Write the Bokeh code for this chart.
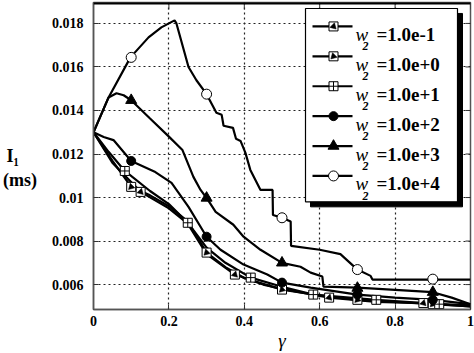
from bokeh.plotting import figure
from bokeh.models import Range1d, FixedTicker, CustomJSTickFormatter, Span
from bokeh.core.properties import value
from bokeh.embed import file_html
from bokeh.resources import INLINE
import math

# ---------------- data ----------------
x_ticks = [0, 0.2, 0.4, 0.6, 0.8, 1.0]
y_ticks = [0.006, 0.008, 0.010, 0.012, 0.014, 0.016, 0.018]

legend_values = ["=1.0e-1", "=1.0e+0", "=1.0e+1", "=1.0e+2", "=1.0e+3", "=1.0e+4"]

# w2 = 1.0e-1
x_em1 = [0, 0.05, 0.125, 0.20, 0.25, 0.30, 0.375, 0.45, 0.50, 0.625, 0.75, 0.875, 1.0]
y_em1 = [0.0130, 0.0116, 0.01026, 0.0095, 0.0088, 0.0074, 0.00646, 0.0060, 0.0058, 0.0054, 0.0052, 0.00515, 0.0050]
mx_em1 = [0.125, 0.375, 0.625, 0.875]
my_em1 = [0.01026, 0.00646, 0.0054, 0.00515]

# w2 = 1.0e+0
x_e0 = [0, 0.05, 0.10, 0.15, 0.20, 0.25, 0.30, 0.35, 0.40, 0.50, 0.60, 0.70, 0.80, 0.90, 1.0]
y_e0 = [0.0130, 0.0117, 0.01049, 0.0101, 0.0096, 0.0089, 0.00747, 0.0068, 0.0063, 0.00577, 0.0055, 0.0053, 0.0052, 0.0051, 0.0050]
mx_e0 = [0.1, 0.3, 0.5, 0.7, 0.9]
my_e0 = [0.01049, 0.00747, 0.00577, 0.0053, 0.0051]

# w2 = 1.0e+1
x_e1 = [0, 0.04, 0.083, 0.15, 0.20, 0.25, 0.30, 0.35, 0.417, 0.50, 0.583, 0.75, 0.917, 1.0]
y_e1 = [0.0130, 0.0121, 0.01122, 0.0103, 0.0097, 0.00884, 0.0077, 0.0070, 0.00632, 0.0059, 0.00554, 0.0053, 0.0051, 0.00505]
mx_e1 = [0.083, 0.25, 0.417, 0.583, 0.75, 0.917]
my_e1 = [0.01122, 0.00884, 0.00632, 0.00554, 0.0053, 0.0051]

# w2 = 1.0e+2
x_e2 = [0, 0.027, 0.053, 0.10, 0.164, 0.207, 0.252, 0.30, 0.337, 0.398, 0.461, 0.50, 0.576, 0.70, 0.80, 0.90, 1.0]
y_e2 = [0.0130, 0.01278, 0.01264, 0.01168, 0.01117, 0.01067, 0.00957, 0.0082, 0.0076, 0.00692, 0.00646, 0.00609, 0.00586, 0.00554, 0.0054, 0.0053, 0.0051]
mx_e2 = [0.1, 0.3, 0.5, 0.7, 0.9]
my_e2 = [0.01168, 0.0082, 0.00609, 0.00554, 0.0053]

# w2 = 1.0e+3
x_e3 = [0, 0.04, 0.061, 0.08, 0.10, 0.15, 0.20, 0.236, 0.265, 0.284, 0.30, 0.324, 0.371, 0.398, 0.443,
        0.50, 0.549, 0.576, 0.607, 0.61, 0.70, 0.80, 0.90, 0.95, 1.0]
y_e3 = [0.0130, 0.0146, 0.01479, 0.01470, 0.01447, 0.01363, 0.0128, 0.01218, 0.01095, 0.01035, 0.00998,
        0.00934, 0.00875, 0.0082, 0.0076, 0.0070, 0.00682, 0.00655, 0.00637, 0.00591, 0.00586, 0.00576,
        0.00565, 0.0054, 0.0051]
mx_e3 = [0.1, 0.3, 0.5, 0.7, 0.9]
my_e3 = [0.01447, 0.00998, 0.0070, 0.00584, 0.00565]

# w2 = 1.0e+4
x_e4 = [0, 0.04, 0.098, 0.146, 0.18, 0.215, 0.220, 0.252, 0.273, 0.30, 0.326, 0.34, 0.345, 0.37, 0.378,
        0.39, 0.403, 0.416, 0.443, 0.475, 0.476, 0.50, 0.523, 0.524, 0.60, 0.655, 0.70, 0.735, 0.74, 1.0]
y_e4 = [0.0130, 0.0146, 0.01644, 0.01736, 0.01782, 0.01814, 0.0180, 0.0160, 0.01539, 0.01475, 0.0139,
        0.0138, 0.0133, 0.0132, 0.0127, 0.0126, 0.01205, 0.01127, 0.01035, 0.01035, 0.0092, 0.00907,
        0.0089, 0.00778, 0.0076, 0.00740, 0.00669, 0.0064, 0.00623, 0.00623]
mx_e4 = [0.1, 0.3, 0.5, 0.7, 0.9]
my_e4 = [0.01644, 0.01475, 0.00907, 0.00669, 0.00625]

# ---------------- layout ----------------
W, H = 474, 353
FL, FR, FT, FB = 93, 470, 2, 310
X0, X1 = 0.0, 1.0
Y0, Y1 = 0.004855, 0.018962


def px(x):
    return X0 + (x - FL) / (FR - FL) * (X1 - X0)


def py(y):
    return Y0 + (FB - y) / (FB - FT) * (Y1 - Y0)


SERIF = "Liberation Serif"
BLACK = "black"
LW = 2.2

p = figure(width=W, height=H, x_range=Range1d(X0, X1), y_range=Range1d(Y0, Y1),
           output_backend="svg", toolbar_location=None,
           min_border_left=FL, min_border_right=W - FR, min_border_top=FT, min_border_bottom=H - FB,
           background_fill_color="white", border_fill_color="white")

p.outline_line_color = "#555555"
p.outline_line_width = 1.5

p.xaxis.ticker = FixedTicker(ticks=x_ticks)
p.yaxis.ticker = FixedTicker(ticks=y_ticks)
p.xaxis.formatter = CustomJSTickFormatter(code="return String(Math.round(tick*10)/10);")
p.yaxis.formatter = CustomJSTickFormatter(code="return String(Math.round(tick*1000)/1000);")
for ax in (p.xaxis[0], p.yaxis[0]):
    ax.major_tick_in = 5
    ax.major_tick_out = 0
    ax.minor_tick_in = 0
    ax.minor_tick_out = 0
    ax.major_tick_line_color = "#333333"
    ax.axis_line_color = "#555555"
    ax.axis_line_width = 1.5
    ax.major_label_text_font = SERIF
    ax.major_label_text_font_style = "bold"
    ax.major_label_text_font_size = "14px"
    ax.major_label_text_color = BLACK
    ax.axis_label_text_font = SERIF
    ax.axis_label_text_color = BLACK
p.xaxis.major_label_standoff = 6
p.yaxis.major_label_standoff = 10

p.xaxis.axis_label = "γ"
p.xaxis.axis_label_text_font_style = "italic"
p.xaxis.axis_label_text_font_size = "19px"
p.xaxis.axis_label_standoff = 1

p.yaxis.axis_label = "\nI\u2081\u2002\u2002\n(ms)"
p.yaxis.axis_label_orientation = "horizontal"
p.yaxis.axis_label_text_font_style = "bold"
p.yaxis.axis_label_text_font_size = "18px"
p.yaxis.axis_label_standoff = 12

p.grid.grid_line_color = "#222222"
p.grid.grid_line_dash = "2 3"
p.grid.grid_line_width = 1.2

p.add_layout(Span(location=Y1, dimension="width", line_color=BLACK, line_width=4))

# inward ticks on the top and right edges
p.segment(x0=x_ticks, y0=[Y1] * len(x_ticks), x1=x_ticks, y1=[py(FT + 7)] * len(x_ticks),
          line_color="#333333", line_width=1)
p.segment(x0=[X1] * len(y_ticks), y0=y_ticks, x1=[px(FR - 5)] * len(y_ticks), y1=y_ticks,
          line_color="#333333", line_width=1)


def half_square(xs, ys, angle, size=9):
    p.scatter(xs, ys, marker="square", size=size, fill_color="white", line_color=BLACK, line_width=1)
    p.scatter(xs, ys, marker="triangle", size=size * 0.72, fill_color=BLACK, line_color=BLACK,
              line_width=0.5, angle=angle)


def draw_markers(kind, xs, ys):
    if kind == 0:
        half_square(xs, ys, -3 * math.pi / 4)
    elif kind == 1:
        half_square(xs, ys, 3 * math.pi / 4)
    elif kind == 2:
        p.scatter(xs, ys, marker="square_cross", size=9, fill_color="white", line_color=BLACK, line_width=1)
    elif kind == 3:
        p.scatter(xs, ys, marker="circle", size=9, fill_color=BLACK, line_color=BLACK)
    elif kind == 4:
        p.scatter(xs, ys, marker="triangle", size=11, fill_color=BLACK, line_color=BLACK)
    else:
        p.scatter(xs, ys, marker="circle", size=10, fill_color="white", line_color=BLACK, line_width=1)


series = [
    (x_em1, y_em1, mx_em1, my_em1),
    (x_e0, y_e0, mx_e0, my_e0),
    (x_e1, y_e1, mx_e1, my_e1),
    (x_e2, y_e2, mx_e2, my_e2),
    (x_e3, y_e3, mx_e3, my_e3),
    (x_e4, y_e4, mx_e4, my_e4),
]
for xs, ys, mxs, mys in series:
    p.line(xs, ys, line_color=BLACK, line_width=LW)
for k, (xs, ys, mxs, mys) in enumerate(series):
    draw_markers(k, mxs, mys)

# ---------------- legend (custom, with subscripts) ----------------
BL, BT, BR, BB = 305, 8, 457, 202
SH = 5
p.quad(left=[px(BL + SH)], right=[px(BR + SH)], top=[py(BT + SH)], bottom=[py(BB + SH)],
       fill_color=BLACK, line_color=BLACK)
p.quad(left=[px(BL)], right=[px(BR)], top=[py(BT)], bottom=[py(BB)],
       fill_color="white", line_color=BLACK, line_width=1.2)

for k, lab in enumerate(legend_values):
    r = 26 + 30 * k
    p.line([px(312), px(352)], [py(r), py(r)], line_color=BLACK, line_width=LW)
    draw_markers(k, [px(333)], [py(r)])
    p.text([px(355)], [py(r + 8)], text=["w"], text_font=value(SERIF), text_font_style="italic",
           text_font_size="19px", text_baseline="alphabetic", text_align="left", text_color=BLACK)
    p.text([px(362)], [py(r + 20)], text=["2"], text_font=value(SERIF), text_font_style="bold italic",
           text_font_size="12px", text_baseline="alphabetic", text_align="left", text_color=BLACK)
    p.text([px(376)], [py(r + 8)], text=[lab], text_font=value(SERIF), text_font_style="bold",
           text_font_size="19px", text_baseline="alphabetic", text_align="left", text_color=BLACK)

open("out.html", "w").write(file_html(p, INLINE))
